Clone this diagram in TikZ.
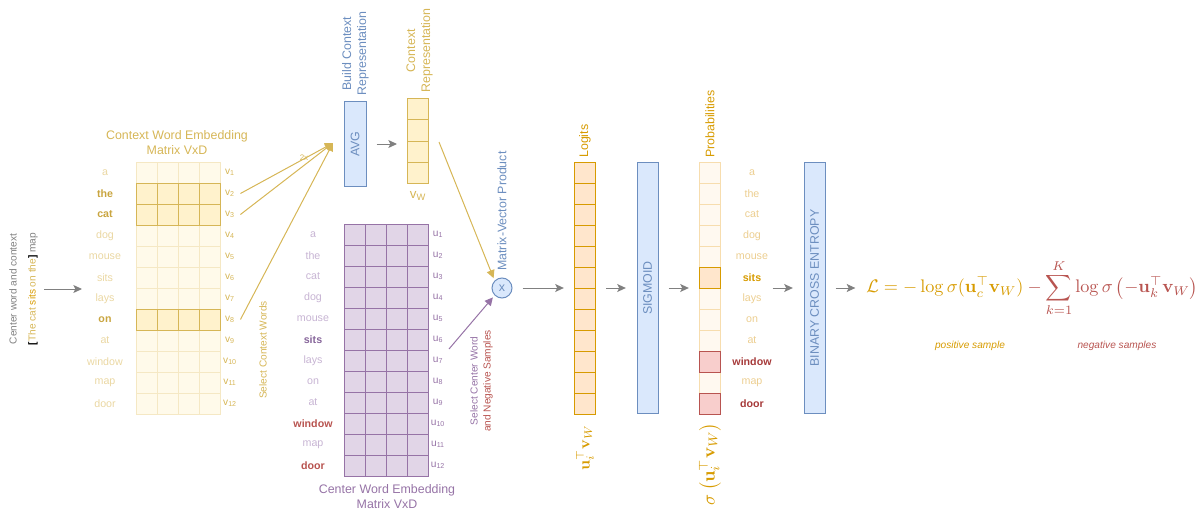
\documentclass[tikz,border=0pt]{standalone}
\usepackage[no-math]{fontspec}
\setmainfont{Liberation Sans}
\usepackage{amsmath, amssymb}
\usepackage{graphicx}
\usepackage{tikz}
\usetikzlibrary{arrows.meta, positioning}
\definecolor{ctxgold}{HTML}{D6B656}
\definecolor{ctxbold}{HTML}{C9A540}
\definecolor{ctxlight}{HTML}{EAD7A2}
\definecolor{ctxfill}{HTML}{FFF2CC}
\definecolor{ctxpale}{HTML}{FFFAEA}
\definecolor{ctxline}{HTML}{F5E8C4}
\definecolor{cwfill}{HTML}{E1D5E7}
\definecolor{cwline}{HTML}{9673A6}
\definecolor{cwlight}{HTML}{C7B4D3}
\definecolor{cwbold}{HTML}{86659A}
\definecolor{negred}{HTML}{B85450}
\definecolor{negdark}{HTML}{A63A3A}
\definecolor{redfill}{HTML}{F8CECC}
\definecolor{blueline}{HTML}{6C8EBF}
\definecolor{bluefill}{HTML}{DAE8FC}
\definecolor{logline}{HTML}{D79B00}
\definecolor{logfill}{HTML}{FFE6CC}
\definecolor{probpale}{HTML}{FFF9F0}
\definecolor{probline}{HTML}{F7DDAE}
\definecolor{problight}{HTML}{ECCE90}
\definecolor{arrowgray}{HTML}{808080}
\newcommand{\lblfont}{\fontsize{8}{9.6}\selectfont}
\newcommand{\ttlfont}{\fontsize{9.3}{11.25}\selectfont}
\newcommand{\smlfont}{\fontsize{7.6}{9.6}\selectfont}
\tikzstyle{cell}=[draw, shape=rectangle, minimum width=15.75pt, minimum height=15.75pt, inner sep=0pt, outer sep=0pt, line width=0.75pt]
\tikzstyle{frame}=[shape=rectangle, inner sep=0pt, outer sep=0pt]
\tikzstyle{wrd}=[inner sep=1pt, font=\lblfont]
\tikzstyle{idx}=[inner sep=1pt, font=\smlfont]
\tikzstyle{ttl}=[inner sep=0pt, align=center, font=\ttlfont]
\tikzstyle{opbox}=[draw=blueline, fill=bluefill, line width=0.75pt, shape=rectangle, rotate=90, inner sep=0pt, text=blueline, font=\ttlfont]
\tikzstyle{garrow}=[draw=arrowgray, line width=0.75pt, -{Stealth[length=6.5pt, width=6pt, inset=1.5pt]}]
\tikzstyle{selarrow}=[line width=0.75pt, -{Triangle[length=6pt, width=6pt]}]

\begin{document}
\begin{tikzpicture}[x=0.75pt, y=-0.75pt]
\useasboundingbox (0,0) rectangle (1200,517);
% the input sentence
\node[idx, rotate=90, text=arrowgray] (ctxlabel) at (13,289) {Center word and context};
\node[idx, rotate=90] (sentence) at (33,289) {\textbf{[}\textcolor{ctxgold}{The cat} \textcolor{logline}{sits} \textcolor{ctxgold}{on the}\textbf{]} \textcolor{arrowgray}{map}};
% the context word embedding matrix
\node[ttl, text=ctxgold] (ctxttl) at (177,142.5) {Context Word Embedding\\Matrix VxD};
\node[frame, minimum width=63pt, minimum height=189pt] (ctxmat) at (178,288) {};
\foreach \r in {0,...,11}
  \foreach \c in {0,...,3}
    \node[cell, draw=ctxline, fill=ctxpale] (ctx-\r-\c) at ({146.5+21*\c},{172.5+21*\r}) {};
\foreach \r in {1,2,7}
  \foreach \c in {0,...,3}
    \node[cell, draw=ctxgold, fill=ctxfill] (ctxsel-\r-\c) at ({146.5+21*\c},{172.5+21*\r}) {};
\foreach \w/\cl/\wt [count=\r from 0] in {a/ctxlight/\mdseries, the/ctxbold/\bfseries, cat/ctxbold/\bfseries, dog/ctxlight/\mdseries, mouse/ctxlight/\mdseries, sits/ctxlight/\mdseries, lays/ctxlight/\mdseries, on/ctxbold/\bfseries, at/ctxlight/\mdseries, window/ctxlight/\mdseries, map/ctxlight/\mdseries, door/ctxlight/\mdseries}
  \node[wrd, text=\cl, font=\lblfont\wt] (ctxw-\r) at (105,{172.5+21*\r}) {\w};
\foreach \r in {1,...,12}
  \node[idx, text=ctxgold] (v\r) at (230,{172.5+21*(\r-1)}) {v\textsubscript{\r}};
% the center word embedding matrix
\node[ttl, text=cwline] (cwttl) at (387,496.5) {Center Word Embedding\\Matrix VxD};
\node[frame, minimum width=63pt, minimum height=189pt] (cwmat) at (386,350) {};
\foreach \r in {0,...,11}
  \foreach \c in {0,...,3}
    \node[cell, draw=cwline, fill=cwfill] (cw-\r-\c) at ({354.5+21*\c},{234.5+21*\r}) {};
\foreach \w/\cl/\wt [count=\r from 0] in {a/cwlight/\mdseries, the/cwlight/\mdseries, cat/cwlight/\mdseries, dog/cwlight/\mdseries, mouse/cwlight/\mdseries, sits/cwbold/\bfseries, lays/cwlight/\mdseries, on/cwlight/\mdseries, at/cwlight/\mdseries, window/negred/\bfseries, map/cwlight/\mdseries, door/negred/\bfseries}
  \node[wrd, text=\cl, font=\lblfont\wt] (cww-\r) at (313,{234.5+21*\r}) {\w};
\foreach \r in {1,...,12}
  \node[idx, text=cwline] (u\r) at (438,{234.5+21*(\r-1)}) {u\textsubscript{\r}};
% the context representation
\node[opbox, minimum width=63pt, minimum height=16.5pt] (avg) at (355,144) {AVG};
\node[ttl, rotate=90, anchor=west, text=blueline] (avgttl) at (355.5,96) {Build Context\\Representation};
\node[frame, minimum width=15.75pt, minimum height=63pt] (vw) at (417.5,141) {};
\foreach \r in {0,...,3}
  \node[cell, draw=ctxgold, fill=ctxfill] (vw-\r) at (417.5,{109.5+21*\r}) {};
\node[ttl, rotate=90, anchor=west, text=ctxgold] (vwttl) at (419.5,93) {Context\\Representation};
\node[ttl, text=ctxgold, font=\fontsize{10}{12}\selectfont] (vwlbl) at (418,196) {v\textsubscript{W}};
% the product
\node[circle, draw=blueline, fill=bluefill, line width=0.75pt, minimum size=15pt, inner sep=0pt, text=blueline, font=\ttlfont] (X) at (502,288) {x};
\node[ttl, rotate=90, anchor=west, text=blueline] (mvp) at (502,271) {Matrix-Vector Product};
\node[idx, rotate=90, align=center] (selcw) at (481.5,381) {\textcolor{cwline}{Select Center Word}\\\textcolor{negred}{and Negative Samples}};
% the logits
\node[frame, minimum width=15.75pt, minimum height=189pt] (logits) at (585,288) {};
\foreach \r in {0,...,11}
  \node[cell, draw=logline, fill=logfill] (lg-\r) at (585,{172.5+21*\r}) {};
\node[ttl, rotate=90, anchor=west, text=logline] (logttl) at (585,158) {Logits};
\node[rotate=90, inner sep=0pt] (logform) at (585,448) {\resizebox{33.75pt}{!}{\color{logline}$\mathbf{u}_i^{\top}\mathbf{v}_W$}};
\node[opbox, minimum width=188.25pt, minimum height=15.75pt] (sigmoid) at (647.5,288) {SIGMOID};
% the probabilities
\node[frame, minimum width=15.75pt, minimum height=189pt] (probs) at (710,288) {};
\foreach \r in {0,...,11}
  \node[cell, draw=probline, fill=probpale] (pr-\r) at (710,{172.5+21*\r}) {};
\node[cell, draw=logline, fill=logfill] (pr-sits) at (710,277.5) {};
\node[cell, draw=negred, fill=redfill] (pr-window) at (710,361.5) {};
\node[cell, draw=negred, fill=redfill] (pr-door) at (710,403.5) {};
\foreach \w/\cl/\wt [count=\r from 0] in {a/problight/\mdseries, the/problight/\mdseries, cat/problight/\mdseries, dog/problight/\mdseries, mouse/problight/\mdseries, sits/logline/\bfseries, lays/problight/\mdseries, on/problight/\mdseries, at/problight/\mdseries, window/negdark/\bfseries, map/problight/\mdseries, door/negdark/\bfseries}
  \node[wrd, text=\cl, font=\lblfont\wt] (prw-\r) at (752,{172.5+21*\r}) {\w};
\node[ttl, rotate=90, anchor=west, text=logline] (probttl) at (710,158) {Probabilities};
\node[rotate=90, inner sep=0pt] (probform) at (710,464) {\resizebox{61.5pt}{!}{\color{logline}$\sigma\left(\mathbf{u}_i^{\top}\mathbf{v}_W\right)$}};
\node[opbox, minimum width=188.25pt, minimum height=15.75pt] (bce) at (814.5,288) {BINARY CROSS ENTROPY};
% the loss
\node[anchor=west, inner sep=0pt] (loss) at (866,288) {\resizebox{249pt}{!}{$\displaystyle \color{logline}\mathcal{L} = -\log\sigma(\mathbf{u}_c^{\top}\mathbf{v}_W)\color{negred}-\sum_{k=1}^{K}\log\sigma\left(-\mathbf{u}_k^{\top}\mathbf{v}_W\right)$}};
\node[idx, text=logline, font=\smlfont\itshape] (possmp) at (970,346) {positive sample};
\node[idx, text=negred, font=\smlfont\itshape] (negsmp) at (1117,346) {negative samples};
% the selections
\coordinate (avgin) at (333,143);
\foreach \r in {2,3,8}
  \draw[selarrow, draw=ctxgold] ([xshift=3pt]v\r.east) -- (avgin);
\node[idx, text=ctxgold, font=\fontsize{6}{7}\selectfont] (twice) at (304,158) {2x};
\node[idx, rotate=90, text=ctxgold] (selctx) at (263,350) {Select Context Words};
\coordinate (vwout) at (439,142);
\draw[selarrow, draw=ctxgold, shorten >=2pt] (vwout) -- (X.135);
\coordinate (cwout) at (449,349);
\draw[selarrow, draw=cwline, shorten >=2pt] (cwout) -- (X.225);
% the flow
\draw[garrow, shorten <=3.75pt, shorten >=40.5pt] (sentence.south) -- (sentence.south -| ctxmat.west);
\draw[garrow, shorten <=7.5pt, shorten >=7.5pt] (avg) -- (avg -| vw.west);
\draw[garrow, shorten <=7.5pt, shorten >=8pt] (X) -- (logits);
\draw[garrow, shorten <=8pt, shorten >=8pt] (logits) -- (sigmoid);
\draw[garrow, shorten <=7.5pt, shorten >=8pt] (sigmoid) -- (probs);
\draw[garrow, shorten <=39pt, shorten >=8pt] (probs) -- (bce);
\draw[garrow, shorten <=7.5pt, shorten >=8pt] (bce) -- (loss);
\end{tikzpicture}
\end{document}
